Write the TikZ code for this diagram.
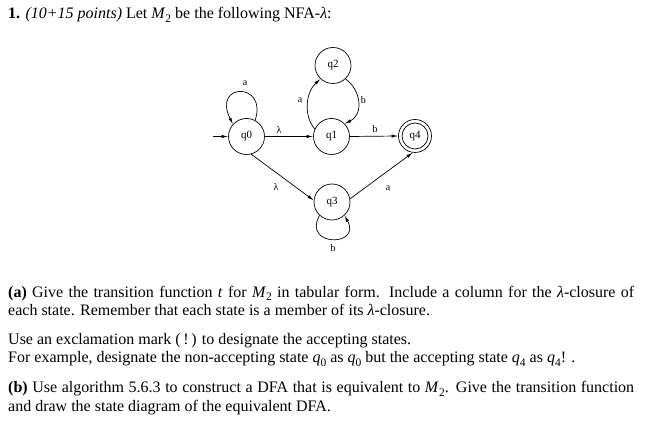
\documentclass[tikz,border=0pt]{standalone}
\usepackage{fontspec}
\setmainfont{Liberation Serif}
\usetikzlibrary{arrows.meta}
\newcommand\mysub[1]{\raisebox{-0.22em}{\fontsize{11.5}{12}\selectfont #1}}
\newcommand\Mtwo{\textit{M}\mysub{2}}
\newcommand\qq[1]{\textit{q}\mysub{#1}}
\begin{document}
\begin{tikzpicture}[x=1pt,y=1pt,
  state/.style={circle,draw,line width=0.7pt,minimum size=36pt,inner sep=0pt,font=\fontsize{11}{12}\selectfont},
  accstate/.style={circle,draw,line width=0.7pt,minimum size=33pt,inner sep=0pt,font=\fontsize{11}{12}\selectfont},
  edge/.style={line width=0.7pt,-{Latex[length=6.5pt,width=3.2pt]}},
  lbl/.style={font=\fontsize{10}{10}\selectfont,inner sep=0pt},
  txt/.style={anchor=base west,inner sep=0pt,font=\fontsize{16}{18}\selectfont}]
\useasboundingbox (0,0) rectangle (655,420);
% text
\node[txt] (t0) at (8,401) {\textbf{1.} \textit{(10+15 points)} Let \Mtwo{} be the following NFA-\textit{λ}:};
\node[txt] (a1) at (8,122.7) {\makebox[626pt][s]{\textbf{(a)} Give the transition function \textit{t} for \Mtwo{} in tabular form. Include a column for the \textit{λ}-closure of}};
\node[txt] (a2) at (8,104.3) {each state. Remember that each state is a member of its \textit{λ}-closure.};
\node[txt] (a3) at (8,75.5) {Use an exclamation mark (\,!\,) to designate the accepting states.};
\node[txt] (a4) at (8,57.3) {For example, designate the non-accepting state \qq{0} as \qq{0} but the accepting state \qq{4} as \qq{4}! .};
\node[txt] (b1) at (8,27.3) {\makebox[626pt][s]{\textbf{(b)} Use algorithm 5.6.3 to construct a DFA that is equivalent to \Mtwo. Give the transition function}};
\node[txt] (b2) at (8,9) {and draw the state diagram of the equivalent DFA.};
% states
\node[state] (q0) at (246.5,283.5) {q0};
\node[state] (q1) at (331.5,283.5) {q1};
\node[state] (q2) at (333,354.5) {q2};
\node[state] (q3) at (332,218) {q3};
\node[accstate] (q4) at (415,284) {q4};
\draw[line width=0.7pt] (q4) circle (13pt);
\coordinate (start) at (213,283.5);
% edges
\draw[edge] (start) -- (q0.west);
\draw[edge] (q0.62) .. controls (268,338) and (212,338) .. (q0.138);
\draw[edge] (q0.east) -- (q1.west);
\draw[edge] (q1.east) -- (q4.west);
\draw[edge] (q1.156) .. controls (303,305) and (306,328) .. (q2.227);
\draw[edge] (q2.313) .. controls (361,330) and (364,306) .. (q1.44);
\draw[edge] (q0.285) -- (q3.175);
\draw[edge] (q3.10) -- (q4.262);
\draw[edge] (q3.227) .. controls (302,173) and (362,173) .. (q3.313);
% labels
\node[lbl] (la) at (245,336.7) {a};
\node[lbl] (ll1) at (279,290) {λ};
\node[lbl] (lb1) at (375,291) {b};
\node[lbl] (la2) at (300,320) {a};
\node[lbl] (lb2) at (363.3,320) {b};
\node[lbl] (ll2) at (276,233) {λ};
\node[lbl] (la3) at (388,232) {a};
\node[lbl] (lb3) at (333,172) {b};
\end{tikzpicture}
\end{document}
